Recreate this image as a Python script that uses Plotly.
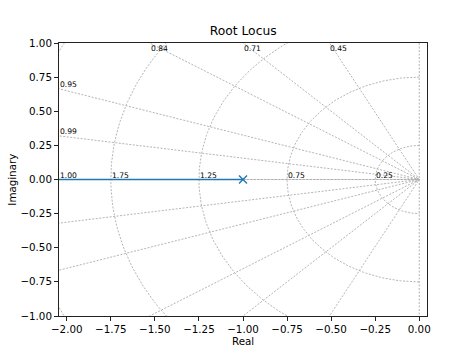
import numpy as np
import plotly.graph_objects as go

# ---- data ----
locus_real = [-1.0, -1.5, -2.0, -2.5]
locus_imag = [0.0, 0.0, 0.0, 0.0]
pole_real = [-1.0]
pole_imag = [0.0]

zeta_values = [1.0, 0.988, 0.951, 0.837, 0.707, 0.454, 0.0]
zeta_labels = ["1.00", "0.99", "0.95", "0.84", "0.71", "0.45", ""]
wn_values = [0.25, 0.75, 1.25, 1.75, 2.25]
wn_labels = ["0.25", "0.75", "1.25", "1.75", ""]

x_ticks = [-2.0, -1.75, -1.5, -1.25, -1.0, -0.75, -0.5, -0.25, 0.0]
y_ticks = [-1.0, -0.75, -0.5, -0.25, 0.0, 0.25, 0.5, 0.75, 1.0]
x_range = [-2.044, 0.044]
y_range = [-1.0, 1.0]

FONT = "DejaVu Sans"
BLUE = "#1f77b4"
GRID = "#ababab"

fig = go.Figure()

# ---- s-plane grid (damping-ratio rays and natural-frequency arcs) ----
R = 4.0
gx, gy = [], []
for z in zeta_values:
    th = np.arccos(z)
    gx += [-R * np.cos(th), 0.0, -R * np.cos(th), None]
    gy += [R * np.sin(th), 0.0, -R * np.sin(th), None]
t = np.linspace(np.pi / 2, 3 * np.pi / 2, 181)
for r in wn_values:
    gx += list(r * np.cos(t)) + [None]
    gy += list(r * np.sin(t)) + [None]
fig.add_trace(go.Scatter(x=gx, y=gy, mode="lines", hoverinfo="skip",
                         line=dict(color=GRID, width=0.9, dash="2px,1.5px"),
                         showlegend=False))

# ---- root locus and pole ----
fig.add_trace(go.Scatter(x=locus_real, y=locus_imag, mode="lines",
                         line=dict(color=BLUE, width=1.6), showlegend=False))
fig.add_trace(go.Scatter(x=pole_real, y=pole_imag, mode="markers",
                         marker=dict(symbol="x-thin-open", size=8, color=BLUE,
                                     line=dict(color=BLUE, width=1.4)),
                         showlegend=False))

# ---- grid labels ----
annots = []
lab_font = dict(family=FONT, size=7.6, color="black")
for z, lab in zip(zeta_values, zeta_labels):
    if not lab:
        continue
    th = np.arccos(z)
    yl = -x_range[0] * np.tan(th)
    if yl <= y_range[1]:
        annots.append(dict(x=x_range[0], y=yl, text=lab, showarrow=False,
                           xanchor="left", yanchor="bottom", font=lab_font,
                           borderpad=0, yshift=-1))
    else:
        xt = -y_range[1] / np.tan(th)
        annots.append(dict(x=xt, y=y_range[1], text=lab, showarrow=False,
                           xanchor="left", yanchor="top", font=lab_font,
                           borderpad=0, yshift=0))
for r, lab in zip(wn_values, wn_labels):
    if not lab:
        continue
    annots.append(dict(x=-r, y=0.0, text=lab, showarrow=False,
                       xanchor="left", yanchor="bottom", font=lab_font,
                       borderpad=0, yshift=-1))

# axis titles
annots.append(dict(x=0.5, y=-0.092, xref="paper", yref="paper", text="Real",
                   showarrow=False, xanchor="center", yanchor="middle",
                   font=dict(family=FONT, size=10.3, color="black")))
annots.append(dict(x=-0.13, y=0.5, xref="paper", yref="paper", text="Imaginary",
                   showarrow=False, xanchor="center", yanchor="middle",
                   textangle=-90,
                   font=dict(family=FONT, size=10.3, color="black")))

axis_common = dict(showgrid=False, zeroline=False, showline=True,
                   linecolor="#222222", linewidth=1, mirror=True,
                   ticks="outside", ticklen=4, tickwidth=1, tickcolor="#222222",
                   tickformat=".2f",
                   tickfont=dict(family=FONT, size=10.3, color="black"))

fig.update_layout(
    width=474, height=355,
    margin=dict(l=59, r=47, t=43, b=39),
    paper_bgcolor="white", plot_bgcolor="white",
    title=dict(text="Root Locus", x=0.513, xanchor="center",
               y=1 - 31 / 355, yanchor="middle",
               font=dict(family=FONT, size=12.3, color="black")),
    xaxis=dict(range=x_range, tickvals=x_ticks, **axis_common),
    yaxis=dict(range=y_range, tickvals=y_ticks, **axis_common),
    annotations=annots,
    showlegend=False,
)

fig.write_html("out.html", config={"displayModeBar": False},
               post_script="document.body.style.margin='0';document.body.style.padding='0';")
